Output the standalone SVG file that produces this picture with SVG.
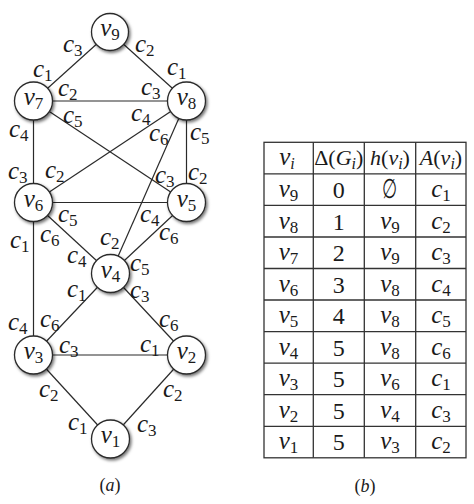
<svg xmlns="http://www.w3.org/2000/svg" width="474" height="504" viewBox="0 0 474 504">
<style>
.e{stroke:#2a2a2a;stroke-width:1.2;fill:none}
.n{fill:#fff;stroke:#2a2a2a;stroke-width:1.3}
.c{font-family:"Liberation Serif",serif;font-style:italic;font-size:25px;fill:#1a1a1a}
.s{font-style:normal;font-size:17px}
.si{font-style:italic;font-size:16px}
.u{font-style:normal}
.h{font-family:"Liberation Serif",serif;font-style:italic;font-size:22px;fill:#1a1a1a}
.d{font-family:"Liberation Serif",serif;font-size:24px;fill:#1a1a1a}
.t{stroke:#333;stroke-width:1.3;fill:none}
.cap{font-family:"Liberation Serif",serif;font-size:18px;fill:#1a1a1a}
</style>
<defs>
<filter id="sh" x="-40%" y="-40%" width="180%" height="180%">
<feDropShadow dx="1.5" dy="1.8" stdDeviation="1.6" flood-color="#000" flood-opacity="0.55"/>
</filter>
</defs>
<g id="connectors">
<line class="e" x1="110" y1="32" x2="33.5" y2="101"/>
<line class="e" x1="110" y1="32" x2="186.5" y2="101"/>
<line class="e" x1="33.5" y1="101" x2="186.5" y2="101"/>
<line class="e" x1="33.5" y1="101" x2="33.5" y2="202.5"/>
<line class="e" x1="33.5" y1="101" x2="186.5" y2="202.5"/>
<line class="e" x1="186.5" y1="101" x2="33.5" y2="202.5"/>
<line class="e" x1="186.5" y1="101" x2="186.5" y2="202.5"/>
<line class="e" x1="186.5" y1="101" x2="110.5" y2="273.5"/>
<line class="e" x1="33.5" y1="202.5" x2="186.5" y2="202.5"/>
<line class="e" x1="33.5" y1="202.5" x2="110.5" y2="273.5"/>
<line class="e" x1="186.5" y1="202.5" x2="110.5" y2="273.5"/>
<line class="e" x1="33.5" y1="202.5" x2="33.5" y2="355"/>
<line class="e" x1="110.5" y1="273.5" x2="33.5" y2="355"/>
<line class="e" x1="110.5" y1="273.5" x2="186.5" y2="355"/>
<line class="e" x1="33.5" y1="355" x2="186.5" y2="355"/>
<line class="e" x1="33.5" y1="355" x2="110.5" y2="439"/>
<line class="e" x1="186.5" y1="355" x2="110.5" y2="439"/>
</g>
<g id="edge-labels">
<text class="c" x="63" y="52">c<tspan class="s" dy="4">3</tspan></text>
<text class="c" x="135" y="52">c<tspan class="s" dy="4">2</tspan></text>
<text class="c" x="33" y="77">c<tspan class="s" dy="4">1</tspan></text>
<text class="c" x="58" y="96">c<tspan class="s" dy="4">2</tspan></text>
<text class="c" x="63" y="123">c<tspan class="s" dy="4">5</tspan></text>
<text class="c" x="9" y="137">c<tspan class="s" dy="4">4</tspan></text>
<text class="c" x="167" y="75">c<tspan class="s" dy="4">1</tspan></text>
<text class="c" x="141" y="95">c<tspan class="s" dy="4">3</tspan></text>
<text class="c" x="131" y="121">c<tspan class="s" dy="4">4</tspan></text>
<text class="c" x="149" y="141">c<tspan class="s" dy="4">6</tspan></text>
<text class="c" x="190" y="140">c<tspan class="s" dy="4">5</tspan></text>
<text class="c" x="8" y="179">c<tspan class="s" dy="4">3</tspan></text>
<text class="c" x="45" y="178">c<tspan class="s" dy="4">2</tspan></text>
<text class="c" x="58" y="222">c<tspan class="s" dy="4">5</tspan></text>
<text class="c" x="40" y="242">c<tspan class="s" dy="4">6</tspan></text>
<text class="c" x="10" y="248">c<tspan class="s" dy="4">1</tspan></text>
<text class="c" x="155" y="183">c<tspan class="s" dy="4">3</tspan></text>
<text class="c" x="188" y="180">c<tspan class="s" dy="4">2</tspan></text>
<text class="c" x="140" y="222">c<tspan class="s" dy="4">4</tspan></text>
<text class="c" x="159" y="240">c<tspan class="s" dy="4">6</tspan></text>
<text class="c" x="100" y="245">c<tspan class="s" dy="4">2</tspan></text>
<text class="c" x="67" y="263">c<tspan class="s" dy="4">4</tspan></text>
<text class="c" x="130" y="271">c<tspan class="s" dy="4">5</tspan></text>
<text class="c" x="67" y="297">c<tspan class="s" dy="4">1</tspan></text>
<text class="c" x="130" y="298">c<tspan class="s" dy="4">3</tspan></text>
<text class="c" x="8" y="330">c<tspan class="s" dy="4">4</tspan></text>
<text class="c" x="40" y="327">c<tspan class="s" dy="4">6</tspan></text>
<text class="c" x="59" y="353">c<tspan class="s" dy="4">3</tspan></text>
<text class="c" x="39" y="397">c<tspan class="s" dy="4">2</tspan></text>
<text class="c" x="159" y="327">c<tspan class="s" dy="4">6</tspan></text>
<text class="c" x="140" y="352">c<tspan class="s" dy="4">1</tspan></text>
<text class="c" x="163" y="397">c<tspan class="s" dy="4">2</tspan></text>
<text class="c" x="68" y="430">c<tspan class="s" dy="4">1</tspan></text>
<text class="c" x="137" y="432">c<tspan class="s" dy="4">3</tspan></text>
</g>
<g id="v9"><circle class="n" filter="url(#sh)" cx="110" cy="32" r="18.5"/><text class="c" x="110" y="36" text-anchor="middle">v<tspan class="s" dy="4">9</tspan></text></g>
<g id="v7"><circle class="n" filter="url(#sh)" cx="33.5" cy="101" r="19"/><text class="c" x="33.5" y="105" text-anchor="middle">v<tspan class="s" dy="4">7</tspan></text></g>
<g id="v8"><circle class="n" filter="url(#sh)" cx="186.5" cy="101" r="19"/><text class="c" x="186.5" y="105" text-anchor="middle">v<tspan class="s" dy="4">8</tspan></text></g>
<g id="v6"><circle class="n" filter="url(#sh)" cx="33.5" cy="202.5" r="19"/><text class="c" x="33.5" y="206.5" text-anchor="middle">v<tspan class="s" dy="4">6</tspan></text></g>
<g id="v5"><circle class="n" filter="url(#sh)" cx="186.5" cy="202.5" r="19"/><text class="c" x="186.5" y="206.5" text-anchor="middle">v<tspan class="s" dy="4">5</tspan></text></g>
<g id="v4"><circle class="n" filter="url(#sh)" cx="110.5" cy="273.5" r="19"/><text class="c" x="110.5" y="277.5" text-anchor="middle">v<tspan class="s" dy="4">4</tspan></text></g>
<g id="v3"><circle class="n" filter="url(#sh)" cx="33.5" cy="355" r="19"/><text class="c" x="33.5" y="359" text-anchor="middle">v<tspan class="s" dy="4">3</tspan></text></g>
<g id="v2"><circle class="n" filter="url(#sh)" cx="186.5" cy="355" r="19"/><text class="c" x="186.5" y="359" text-anchor="middle">v<tspan class="s" dy="4">2</tspan></text></g>
<g id="v1"><circle class="n" filter="url(#sh)" cx="110.5" cy="439" r="19"/><text class="c" x="110.5" y="443" text-anchor="middle">v<tspan class="s" dy="4">1</tspan></text></g>
<text class="cap" x="110" y="491" text-anchor="middle">(<tspan font-style="italic">a</tspan>)</text>
<g id="table">
<rect class="t" x="264" y="142.3" width="202" height="315.5"/>
<path class="t" d="M313.3 142.3V457.8M364.3 142.3V457.8M415.7 142.3V457.8M264 173.9H466M264 205.4H466M264 237H466M264 268.5H466M264 300H466M264 331.6H466M264 363.2H466M264 394.7H466M264 426.3H466"/>
<text class="c" x="287" y="165" text-anchor="middle">v<tspan class="si" dy="4">i</tspan></text>
<text class="h" x="338.8" y="165" text-anchor="middle"><tspan class="u">Δ(</tspan>G<tspan class="si" font-size="15px" dy="4">i</tspan><tspan class="u" dy="-4">)</tspan></text>
<text class="h" x="390" y="165" text-anchor="middle">h<tspan class="u">(</tspan>v<tspan class="si" font-size="15px" dy="4">i</tspan><tspan class="u" dy="-4">)</tspan></text>
<text class="h" x="441" y="165" text-anchor="middle">A<tspan class="u">(</tspan>v<tspan class="si" font-size="15px" dy="4">i</tspan><tspan class="u" dy="-4">)</tspan></text>
<g text-anchor="middle">
<text class="c" x="288.5" y="197">v<tspan class="s" dy="4">9</tspan></text>
<text class="c" x="288.5" y="228.5">v<tspan class="s" dy="4">8</tspan></text>
<text class="c" x="288.5" y="260">v<tspan class="s" dy="4">7</tspan></text>
<text class="c" x="288.5" y="291.5">v<tspan class="s" dy="4">6</tspan></text>
<text class="c" x="288.5" y="323">v<tspan class="s" dy="4">5</tspan></text>
<text class="c" x="288.5" y="354.5">v<tspan class="s" dy="4">4</tspan></text>
<text class="c" x="288.5" y="386">v<tspan class="s" dy="4">3</tspan></text>
<text class="c" x="288.5" y="417.5">v<tspan class="s" dy="4">2</tspan></text>
<text class="c" x="288.5" y="449">v<tspan class="s" dy="4">1</tspan></text>
<text class="d" x="338.8" y="198">0</text>
<text class="d" x="338.8" y="229.5">1</text>
<text class="d" x="338.8" y="261">2</text>
<text class="d" x="338.8" y="292.5">3</text>
<text class="d" x="338.8" y="324">4</text>
<text class="d" x="338.8" y="355.5">5</text>
<text class="d" x="338.8" y="387">5</text>
<text class="d" x="338.8" y="418.5">5</text>
<text class="d" x="338.8" y="450">5</text>
<text class="d" transform="translate(390 198) scale(0.72 1.12)" x="0" y="0">∅</text>
<text class="c" x="390" y="228.5">v<tspan class="s" dy="4">9</tspan></text>
<text class="c" x="390" y="260">v<tspan class="s" dy="4">9</tspan></text>
<text class="c" x="390" y="291.5">v<tspan class="s" dy="4">8</tspan></text>
<text class="c" x="390" y="323">v<tspan class="s" dy="4">8</tspan></text>
<text class="c" x="390" y="354.5">v<tspan class="s" dy="4">8</tspan></text>
<text class="c" x="390" y="386">v<tspan class="s" dy="4">6</tspan></text>
<text class="c" x="390" y="417.5">v<tspan class="s" dy="4">4</tspan></text>
<text class="c" x="390" y="449">v<tspan class="s" dy="4">3</tspan></text>
<text class="c" x="441" y="197">c<tspan class="s" dy="4">1</tspan></text>
<text class="c" x="441" y="228.5">c<tspan class="s" dy="4">2</tspan></text>
<text class="c" x="441" y="260">c<tspan class="s" dy="4">3</tspan></text>
<text class="c" x="441" y="291.5">c<tspan class="s" dy="4">4</tspan></text>
<text class="c" x="441" y="323">c<tspan class="s" dy="4">5</tspan></text>
<text class="c" x="441" y="354.5">c<tspan class="s" dy="4">6</tspan></text>
<text class="c" x="441" y="386">c<tspan class="s" dy="4">1</tspan></text>
<text class="c" x="441" y="417.5">c<tspan class="s" dy="4">3</tspan></text>
<text class="c" x="441" y="449">c<tspan class="s" dy="4">2</tspan></text>
</g>
</g>
<text class="cap" x="365" y="492" text-anchor="middle">(<tspan font-style="italic">b</tspan>)</text>
</svg>
